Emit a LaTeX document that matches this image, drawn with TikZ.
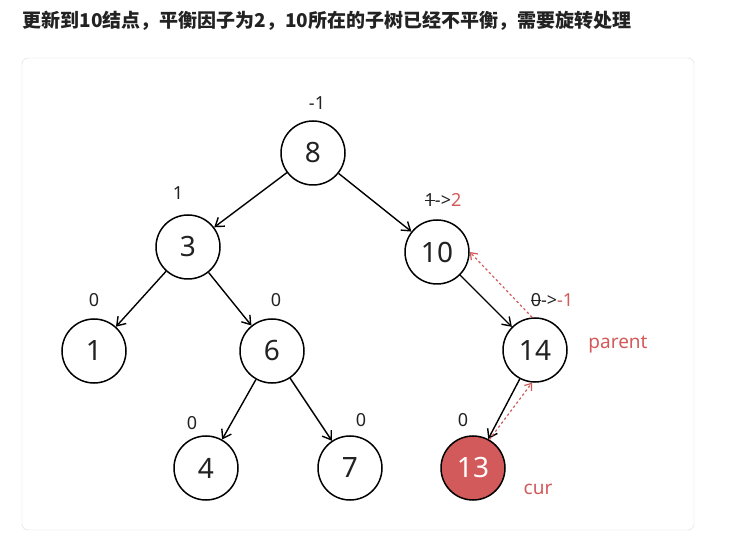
\documentclass[tikz,border=0pt]{standalone}
\usepackage{fontspec}
\setmainfont{Noto Sans}
\newfontfamily\cjk{Noto Sans CJK SC}
\usetikzlibrary{arrows.meta}
\definecolor{myred}{HTML}{D35A5A}
\definecolor{txt}{HTML}{222222}
\newcommand\strk[1]{\setbox0\hbox{#1}\rlap{\raisebox{0.3em}{\rule{\wd0}{0.9pt}}}\box0}
\tikzset{tn/.style={circle,draw,line width=1.5pt,minimum size=64pt,inner sep=0pt,font=\fontsize{28}{28}\selectfont,text=txt},
bf/.style={font=\fontsize{18}{18}\selectfont,text=txt},
edge/.style={-{Straight Barb[length=8pt,width=11pt]},line width=1.4pt},
back/.style={-{Straight Barb[length=6pt,width=9pt]},myred,dash pattern=on 2.5pt off 2.5pt,line width=1.2pt}}
\begin{document}
\begin{tikzpicture}[x=1pt,y=-1pt]
\useasboundingbox (0,0) rectangle (742,545);
\node[anchor=west,font=\cjk\bfseries\fontsize{19}{19}\selectfont,text=txt] (t) at (19,21) {更新到10结点，平衡因子为2，10所在的子树已经不平衡，需要旋转处理};
\draw[draw=black!15,rounded corners=6pt] (22,58) rectangle (694,530);
\node[tn] (n8) at (313,153) {8};
\node[tn] (n3) at (188,247) {3};
\node[tn] (n10) at (437,252) {10};
\node[tn] (n1) at (94,351) {1};
\node[tn] (n6) at (272,351) {6};
\node[tn] (n14) at (535,350) {14};
\node[tn] (n4) at (206,468) {4};
\node[tn] (n7) at (350,468) {7};
\node[tn,fill=myred,text=white] (n13) at (473,468) {13};
\draw[edge] (n8) -- (n3);
\draw[edge] (n8) -- (n10);
\draw[edge] (n3) -- (n1);
\draw[edge] (n3) -- (n6);
\draw[edge] (n6) -- (n4);
\draw[edge] (n6) -- (n7);
\draw[edge] (n10) -- (n14);
\draw[edge] (n14) -- (n13);
\draw[back] (n13.60) -- (n14.-95);
\draw[back] (n14.95) -- (n10.east);
\node[bf] (l8) at (317,103) {-1};
\node[bf] (l3) at (178,193) {1};
\node[bf] (l10) at (443,200) {\strk{1}->\textcolor{myred}{2}};
\node[bf] (l1) at (94,300) {0};
\node[bf] (l6) at (276,300) {0};
\node[bf] (l14) at (552,300) {\strk{0}->\textcolor{myred}{-1}};
\node[bf] (l4) at (192,423) {0};
\node[bf] (l7) at (361,420) {0};
\node[bf] (l13) at (463,420) {0};
\node[bf,text=myred,font=\fontsize{19}{19}\selectfont] (p) at (618,345) {parent};
\node[bf,text=myred,font=\fontsize{19}{19}\selectfont] (c) at (538,489) {cur};
\end{tikzpicture}
\end{document}
